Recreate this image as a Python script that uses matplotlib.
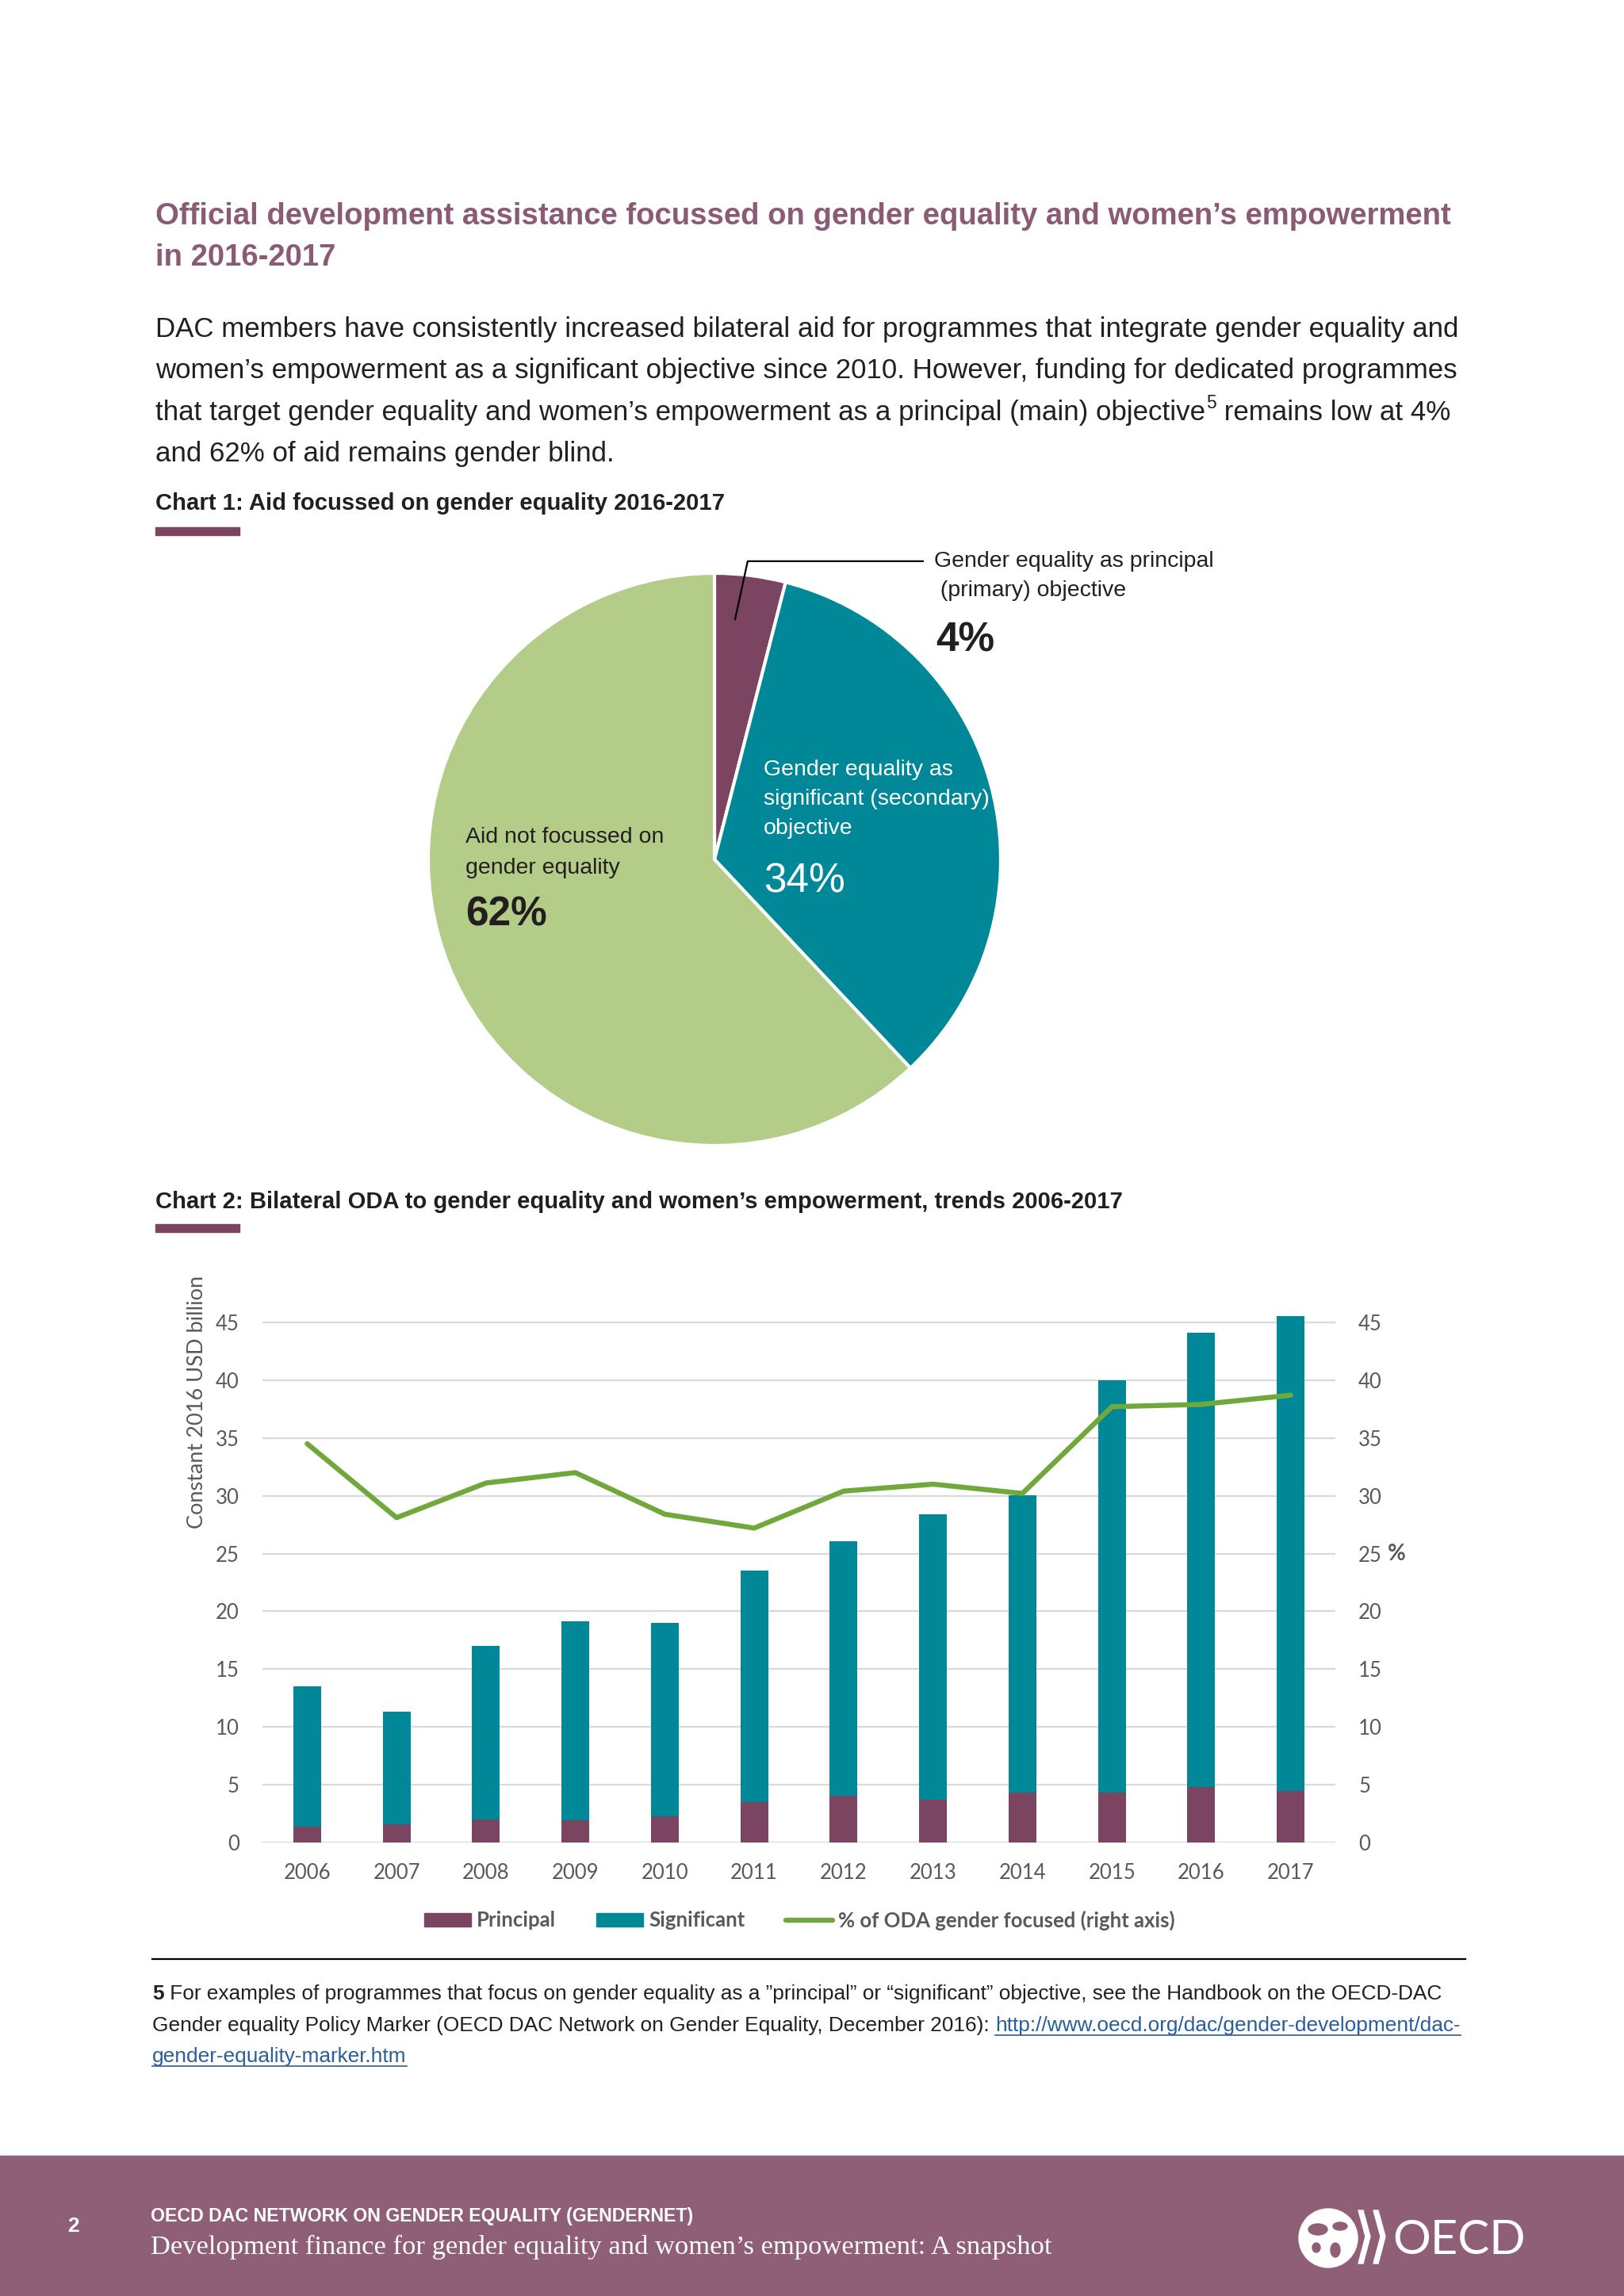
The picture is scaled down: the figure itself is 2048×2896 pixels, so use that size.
import numpy as np
import matplotlib
matplotlib.use('Agg')
import matplotlib.pyplot as plt
from matplotlib.patches import Rectangle, Patch, Circle, Ellipse, Polygon
from matplotlib.lines import Line2D
from matplotlib.transforms import Affine2D

W, H, DPI = 2048, 2896, 100

# chart 1: pie
pie_labels = ['Gender equality as principal (primary) objective',
              'Gender equality as significant (secondary) objective',
              'Aid not focussed on gender equality']
pie_shares = [4, 34, 62]
pie_colors = ['#7b4461', '#008899', '#b3cc87']

# chart 2: bars + line
years = ['2006', '2007', '2008', '2009', '2010', '2011',
         '2012', '2013', '2014', '2015', '2016', '2017']
principal = [1.40, 1.61, 1.99, 1.89, 2.24, 3.53, 4.02, 3.67, 4.33, 4.33, 4.82, 4.47]
significant = [12.12, 9.68, 15.03, 17.22, 16.76, 20.02, 22.01, 24.70, 25.72, 35.64, 39.28, 41.06]
pct_gender = [34.5, 28.1, 31.1, 32.0, 28.4, 27.2, 30.4, 31.0, 30.2, 37.7, 37.9, 38.7]
y_ticks = [0, 5, 10, 15, 20, 25, 30, 35, 40, 45]

MAUVE = '#8b5a75'
INK = '#231f20'
GREY = '#595959'
COND = ['Liberation Sans', 'DejaVu Sans']
CALI = ['Lato', 'DejaVu Sans']

fig = plt.figure(figsize=(W / DPI, H / DPI), dpi=DPI)
# pixel coordinates with origin at the top left
PIX = Affine2D().scale(1 / W, -1 / H).translate(0, 1) + fig.transFigure
renderer = fig.canvas.get_renderer()


def put(x, y, s, **kw):
    kw.setdefault('va', 'baseline')
    kw.setdefault('family', COND)
    kw.setdefault('color', INK)
    return fig.text(x, y, s, transform=PIX, **kw)


def x_end(t):
    return t.get_window_extent(renderer).x1


def axes_box(left, top, right, bottom):
    return [left / W, 1 - bottom / H, (right - left) / W, (bottom - top) / H]


# heading and intro
put(196, 283, 'Official development assistance focussed on gender equality and women’s empowerment',
    fontsize=27.5, weight='bold', color=MAUVE)
put(196, 335, 'in 2016-2017', fontsize=27.5, weight='bold', color=MAUVE)

body = 25.1
put(196, 425, 'DAC members have consistently increased bilateral aid for programmes that integrate gender equality and', fontsize=body)
put(196, 477, 'women’s empowerment as a significant objective since 2010. However, funding for dedicated programmes', fontsize=body)
t = put(196, 530, 'that target gender equality and women’s empowerment as a principal (main) objective', fontsize=body)
t = put(x_end(t) + 1, 515, '5', fontsize=16.5)
put(x_end(t), 530, ' remains low at 4%', fontsize=body)
put(196, 582, 'and 62% of aid remains gender blind.', fontsize=body)

put(196, 643, 'Chart 1: Aid focussed on gender equality 2016-2017', fontsize=21.1, weight='bold')
fig.patches.append(Rectangle((196, 665), 106, 10, color='#7b4461', transform=PIX))

# chart 1
axp = fig.add_axes(axes_box(540, 723, 1262, 1445))
axp.pie(pie_shares, colors=pie_colors, startangle=90, counterclock=False,
        wedgeprops=dict(edgecolor='white', linewidth=3))
axp.set_xlim(-1, 1)
axp.set_ylim(-1, 1)
axp.plot([0.072, 0.116, 0.728], [0.839, 1.042, 1.042], color='black', lw=1.6, clip_on=False)

lab = 20.5
pct = 37
put(1178, 715, 'Gender equality as principal', fontsize=lab)
put(1178, 752, ' (primary) objective', fontsize=lab)
put(1180, 822, '4%', fontsize=pct, weight='bold')

put(963, 978, 'Gender equality as', fontsize=lab, color='white')
put(963, 1015, 'significant (secondary)', fontsize=lab, color='white')
put(963, 1052, 'objective', fontsize=lab, color='white')
put(963, 1125, '34%', fontsize=pct, color='white')

put(587, 1063, 'Aid not focussed on', fontsize=lab)
put(587, 1102, 'gender equality', fontsize=lab)
put(587, 1168, '62%', fontsize=pct, weight='bold')

# chart 2
put(196, 1524, 'Chart 2: Bilateral ODA to gender equality and women’s empowerment, trends 2006-2017',
    fontsize=21.1, weight='bold')
fig.patches.append(Rectangle((196, 1544), 106, 10, color='#7b4461', transform=PIX))

ax = fig.add_axes(axes_box(331, 1595, 1684, 2324))
xs = np.arange(len(years))
ax.bar(xs, principal, width=0.31, color='#7b4461', zorder=2)
ax.bar(xs, significant, width=0.31, bottom=principal, color='#008899', zorder=2)
ax.set_xlim(-0.5, len(years) - 0.5)
ax.set_ylim(0, 50)
ax.set_yticks(y_ticks)
ax.yaxis.grid(True, color='#d9d9d9', lw=1.6, zorder=0)
ax.set_axisbelow(True)
ax.set_xticks(xs)
ax.set_xticklabels(years)
for s in ax.spines.values():
    s.set_visible(False)
ax.tick_params(axis='both', length=0, labelsize=18.5, labelcolor=GREY)
ax.tick_params(axis='x', pad=19)
ax.tick_params(axis='y', pad=21)
for lbl in ax.get_xticklabels() + ax.get_yticklabels():
    lbl.set_family(CALI)

ax2 = ax.twinx()
ax2.plot(xs, pct_gender, color='#70a83b', lw=4.6, solid_capstyle='round', zorder=3)
ax2.set_ylim(0, 50)
ax2.set_yticks(y_ticks)
for s in ax2.spines.values():
    s.set_visible(False)
ax2.tick_params(axis='y', length=0, labelsize=18.5, labelcolor=GREY, pad=21)
for lbl in ax2.get_yticklabels():
    lbl.set_family(CALI)

fig.text(249, 1768, 'Constant 2016 USD billion', transform=PIX, rotation=90,
         ha='center', va='center', family=CALI, fontsize=19.5, color=GREY)
fig.text(1750, 1960, '%', transform=PIX, ha='left', va='center',
         family=CALI, fontsize=20, color=GREY, weight='bold')

handles = [Patch(color='#7b4461'), Patch(color='#008899'),
           Line2D([], [], color='#70a83b', lw=4.6, solid_capstyle='round')]
leg = fig.legend(handles, ['Principal', 'Significant', '% of ODA gender focused (right axis)'],
                 loc='center', bbox_to_anchor=(1008 / W, 1 - 2422 / H), ncol=3, frameon=False,
                 handlelength=2.3, handleheight=0.6, handletextpad=0.27, columnspacing=2.0,
                 prop=dict(family=CALI, size=18.5, weight='bold'))
for txt in leg.get_texts():
    txt.set_color(GREY)

# footnote
fig.lines.append(Line2D([192, 1848], [2471, 2471], color='black', lw=1.6, transform=PIX))
fn = 18.9
t = put(192, 2522, '5', fontsize=fn, weight='bold')
put(x_end(t), 2522, ' For examples of programmes that focus on gender equality as a ”principal” or “significant” objective, see the Handbook on the OECD-DAC', fontsize=fn)
t = put(192, 2562, 'Gender equality Policy Marker (OECD DAC Network on Gender Equality, December 2016): ', fontsize=fn)
LINK = '#2b5d9c'
links = [put(x_end(t), 2562, 'http://www.oecd.org/dac/gender-development/dac-', fontsize=fn, color=LINK),
         put(192, 2601, 'gender-equality-marker.htm', fontsize=fn, color=LINK)]
for lk, yb in zip(links, [2562, 2601]):
    bb = lk.get_window_extent(renderer)
    fig.lines.append(Line2D([bb.x0, bb.x1], [yb + 5, yb + 5], color=LINK, lw=1.2, transform=PIX))

# footer band
BAND = '#8f5f77'
fig.patches.append(Rectangle((0, 2719), W, H - 2719, color=BAND, transform=PIX))
put(92, 2815, '2', fontsize=19, weight='bold', color='white', ha='center')
put(190, 2802, 'OECD DAC NETWORK ON GENDER EQUALITY (GENDERNET)', fontsize=16.7, weight='bold', color='white')
put(190, 2843, 'Development finance for gender equality and women’s empowerment: A snapshot',
    fontsize=24.8, color='white', family=['Liberation Serif', 'DejaVu Serif'])

# OECD logo
fig.patches.append(Circle((1675, 2823), 37, color='white', transform=PIX))
for cx, cy, rx, ry in [(1662, 2812, 12, 7), (1690, 2808, 9, 5), (1684, 2838, 6, 9), (1660, 2835, 5, 6)]:
    fig.patches.append(Ellipse((cx, cy), rx * 2, ry * 2, color=BAND, transform=PIX))
for x0 in (1713, 1732):
    fig.patches.append(Polygon([(x0, 2788), (x0 + 6, 2788), (x0 + 15, 2821), (x0 + 6, 2855),
                                (x0, 2855), (x0 + 9, 2821)], closed=True, color='white', transform=PIX))
put(1756, 2843, 'OECD', fontsize=43, color='white', family=['Lato', 'DejaVu Sans'])

fig.savefig('out.png', dpi=DPI)
